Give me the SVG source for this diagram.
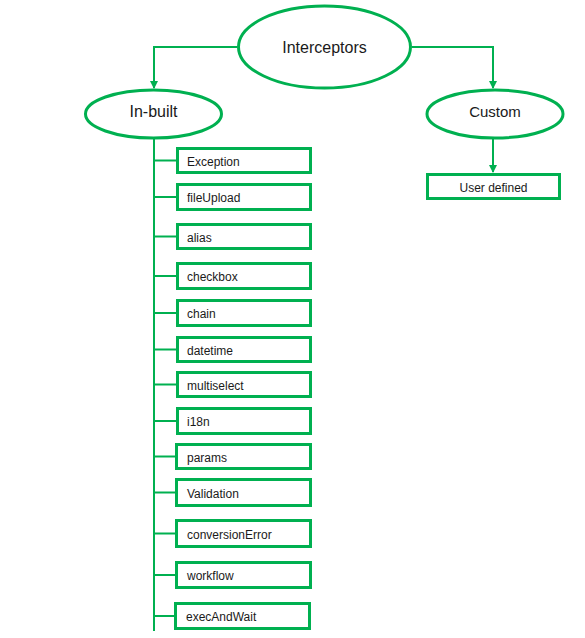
<svg xmlns="http://www.w3.org/2000/svg" width="585" height="638" viewBox="0 0 585 638">
<style>
.ell{fill:#fff;stroke:#00b050;stroke-width:3}
.box{fill:#fff;stroke:#00b050;stroke-width:3}
.con{fill:none;stroke:#00b050;stroke-width:2}
.big{font-family:"Liberation Sans",Arial,sans-serif;font-size:16px;fill:#1a1a1a}
.sm{font-family:"Liberation Sans",Arial,sans-serif;font-size:12px;fill:#1a1a1a}
</style>
<defs>
<marker id="arr" markerWidth="8" markerHeight="8" refX="7" refY="4" orient="auto" markerUnits="userSpaceOnUse">
<path d="M0,0 L8,4 L0,8 Z" fill="#00b050"/>
</marker>
</defs>
<rect width="585" height="638" fill="#fff"/>
<g id="connectors">
<path class="con" d="M237,47 H154 V88" marker-end="url(#arr)"/>
<path class="con" d="M412,47 H493 V88" marker-end="url(#arr)"/>
<path class="con" d="M493,139 V172" marker-end="url(#arr)"/>
<path class="con" d="M154,139 V631"/>
<path class="con" d="M154,160.5 H176"/>
<path class="con" d="M154,197 H176"/>
<path class="con" d="M154,236.5 H176"/>
<path class="con" d="M154,276 H176"/>
<path class="con" d="M154,313 H176"/>
<path class="con" d="M154,349.5 H176"/>
<path class="con" d="M154,384.5 H176"/>
<path class="con" d="M154,421 H176"/>
<path class="con" d="M154,456.5 H176"/>
<path class="con" d="M154,492.5 H176"/>
<path class="con" d="M154,533.5 H176"/>
<path class="con" d="M154,575 H176"/>
<path class="con" d="M154,616 H175"/>
</g>
<g id="interceptors">
<ellipse class="ell" cx="324.5" cy="47" rx="86" ry="41"/>
<text class="big" x="324.5" y="52.5" text-anchor="middle">Interceptors</text>
</g>
<g id="inbuilt">
<ellipse class="ell" cx="153.5" cy="114" rx="68" ry="24"/>
<text class="big" x="153.5" y="116.5" text-anchor="middle">In-built</text>
</g>
<g id="custom">
<ellipse class="ell" cx="495" cy="114" rx="68" ry="24"/>
<text class="big" x="495" y="116.5" text-anchor="middle" style="font-size:15px">Custom</text>
</g>
<g id="userdefined">
<rect class="box" x="427.5" y="174.5" width="132" height="24"/>
<text class="sm" x="493.5" y="192" text-anchor="middle">User defined</text>
</g>
<g id="exception"><rect class="box" x="177.5" y="148.5" width="133" height="24"/><text class="sm" x="187" y="165.5">Exception</text></g>
<g id="fileupload"><rect class="box" x="177.5" y="184.5" width="133" height="25"/><text class="sm" x="187" y="202">fileUpload</text></g>
<g id="alias"><rect class="box" x="177.5" y="224.5" width="133" height="24"/><text class="sm" x="187" y="241.5">alias</text></g>
<g id="checkbox"><rect class="box" x="177.5" y="263.5" width="133" height="25"/><text class="sm" x="187" y="281">checkbox</text></g>
<g id="chain"><rect class="box" x="177.5" y="300.5" width="133" height="25"/><text class="sm" x="187" y="318">chain</text></g>
<g id="datetime"><rect class="box" x="177.5" y="337.5" width="133" height="24"/><text class="sm" x="187" y="354.5">datetime</text></g>
<g id="multiselect"><rect class="box" x="177.5" y="372.5" width="133" height="24"/><text class="sm" x="187" y="389.5">multiselect</text></g>
<g id="i18n"><rect class="box" x="177.5" y="408.5" width="133" height="25"/><text class="sm" x="187" y="426">i18n</text></g>
<g id="params"><rect class="box" x="176.5" y="444.5" width="134" height="24"/><text class="sm" x="187" y="461.5">params</text></g>
<g id="validation"><rect class="box" x="176.5" y="479.5" width="134" height="26"/><text class="sm" x="187" y="497.5">Validation</text></g>
<g id="conversionerror"><rect class="box" x="176.5" y="520.5" width="134" height="26"/><text class="sm" x="187" y="538.5">conversionError</text></g>
<g id="workflow"><rect class="box" x="176.5" y="562.5" width="134" height="25"/><text class="sm" x="187" y="580">workflow</text></g>
<g id="execandwait"><rect class="box" x="175.5" y="603.5" width="134" height="25"/><text class="sm" x="186" y="621">execAndWait</text></g>
</svg>
